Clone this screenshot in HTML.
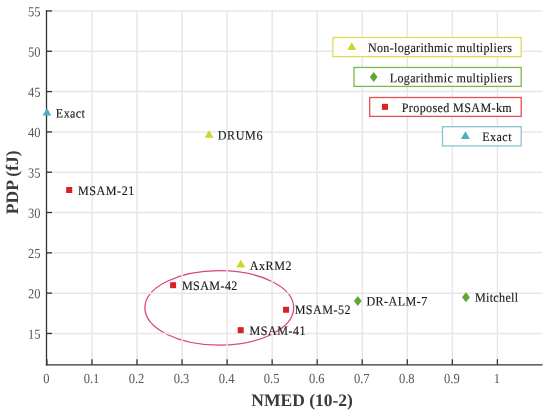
<!DOCTYPE html>
<html><head><meta charset="utf-8"><style>
html,body{margin:0;padding:0;background:#fff;}
body{width:550px;height:415px;overflow:hidden;}
svg{display:block;filter:blur(0.25px);} text{text-rendering:geometricPrecision;}
</style></head><body>
<svg width="550" height="415" viewBox="0 0 550 415">
<rect width="550" height="415" fill="#fff"/>
<ellipse cx="219.3" cy="307.85" rx="74.4" ry="37.25" fill="none" stroke="#d8457e" stroke-width="1.25"/>
<g stroke="#e7e7e7" stroke-width="1.5"><line x1="91.95" y1="10.95" x2="91.95" y2="364.80"/><line x1="137.00" y1="10.95" x2="137.00" y2="364.80"/><line x1="182.05" y1="10.95" x2="182.05" y2="364.80"/><line x1="227.10" y1="10.95" x2="227.10" y2="364.80"/><line x1="272.15" y1="10.95" x2="272.15" y2="364.80"/><line x1="317.20" y1="10.95" x2="317.20" y2="364.80"/><line x1="362.25" y1="10.95" x2="362.25" y2="364.80"/><line x1="407.30" y1="10.95" x2="407.30" y2="364.80"/><line x1="452.35" y1="10.95" x2="452.35" y2="364.80"/><line x1="497.40" y1="10.95" x2="497.40" y2="364.80"/><line x1="46.50" y1="333.47" x2="542.60" y2="333.47"/><line x1="46.50" y1="293.16" x2="542.60" y2="293.16"/><line x1="46.50" y1="252.84" x2="542.60" y2="252.84"/><line x1="46.50" y1="212.53" x2="542.60" y2="212.53"/><line x1="46.50" y1="172.21" x2="542.60" y2="172.21"/><line x1="46.50" y1="131.90" x2="542.60" y2="131.90"/><line x1="46.50" y1="91.58" x2="542.60" y2="91.58"/><line x1="46.50" y1="51.27" x2="542.60" y2="51.27"/><line x1="46.50" y1="10.95" x2="542.60" y2="10.95"/></g>
<g stroke="#333333" stroke-width="1.3"><line x1="46.5" y1="10.3" x2="46.5" y2="365.40000000000003"/><line x1="45.9" y1="364.8" x2="542.6" y2="364.8"/><line x1="46.5" y1="333.47" x2="52" y2="333.47"/><line x1="46.5" y1="293.16" x2="52" y2="293.16"/><line x1="46.5" y1="252.84" x2="52" y2="252.84"/><line x1="46.5" y1="212.53" x2="52" y2="212.53"/><line x1="46.5" y1="172.21" x2="52" y2="172.21"/><line x1="46.5" y1="131.90" x2="52" y2="131.90"/><line x1="46.5" y1="91.58" x2="52" y2="91.58"/><line x1="46.5" y1="51.27" x2="52" y2="51.27"/><line x1="46.5" y1="10.95" x2="52" y2="10.95"/><line x1="46.90" y1="364.8" x2="46.90" y2="359.2"/><line x1="91.95" y1="364.8" x2="91.95" y2="359.2"/><line x1="137.00" y1="364.8" x2="137.00" y2="359.2"/><line x1="182.05" y1="364.8" x2="182.05" y2="359.2"/><line x1="227.10" y1="364.8" x2="227.10" y2="359.2"/><line x1="272.15" y1="364.8" x2="272.15" y2="359.2"/><line x1="317.20" y1="364.8" x2="317.20" y2="359.2"/><line x1="362.25" y1="364.8" x2="362.25" y2="359.2"/><line x1="407.30" y1="364.8" x2="407.30" y2="359.2"/><line x1="452.35" y1="364.8" x2="452.35" y2="359.2"/><line x1="497.40" y1="364.8" x2="497.40" y2="359.2"/></g>
<g font-family="Liberation Serif, serif" font-size="13.3" fill="#555555"><text transform="translate(40.6 338.67) rotate(0.05) scale(0.94 1.04)" text-anchor="end">15</text><text transform="translate(40.6 298.36) rotate(0.05) scale(0.94 1.04)" text-anchor="end">20</text><text transform="translate(40.6 258.04) rotate(0.05) scale(0.94 1.04)" text-anchor="end">25</text><text transform="translate(40.6 217.72) rotate(0.05) scale(0.94 1.04)" text-anchor="end">30</text><text transform="translate(40.6 177.41) rotate(0.05) scale(0.94 1.04)" text-anchor="end">35</text><text transform="translate(40.6 137.09) rotate(0.05) scale(0.94 1.04)" text-anchor="end">40</text><text transform="translate(40.6 96.78) rotate(0.05) scale(0.94 1.04)" text-anchor="end">45</text><text transform="translate(40.6 56.47) rotate(0.05) scale(0.94 1.04)" text-anchor="end">50</text><text transform="translate(40.6 16.15) rotate(0.05) scale(0.94 1.04)" text-anchor="end">55</text><text transform="translate(46.40 383) rotate(0.05) scale(0.94 1.04)" text-anchor="middle">0</text><text transform="translate(91.45 383) rotate(0.05) scale(0.94 1.04)" text-anchor="middle">0.1</text><text transform="translate(136.50 383) rotate(0.05) scale(0.94 1.04)" text-anchor="middle">0.2</text><text transform="translate(181.55 383) rotate(0.05) scale(0.94 1.04)" text-anchor="middle">0.3</text><text transform="translate(226.60 383) rotate(0.05) scale(0.94 1.04)" text-anchor="middle">0.4</text><text transform="translate(271.65 383) rotate(0.05) scale(0.94 1.04)" text-anchor="middle">0.5</text><text transform="translate(316.70 383) rotate(0.05) scale(0.94 1.04)" text-anchor="middle">0.6</text><text transform="translate(361.75 383) rotate(0.05) scale(0.94 1.04)" text-anchor="middle">0.7</text><text transform="translate(406.80 383) rotate(0.05) scale(0.94 1.04)" text-anchor="middle">0.8</text><text transform="translate(451.85 383) rotate(0.05) scale(0.94 1.04)" text-anchor="middle">0.9</text><text transform="translate(496.90 383) rotate(0.05) scale(0.94 1.04)" text-anchor="middle">1</text></g>
<text transform="translate(302.1 406.3) scale(1 1.0)" text-anchor="middle" font-family="Liberation Serif, serif" font-weight="bold" font-size="17.5" fill="#3a3a3a">NMED (10-2)</text>
<text transform="translate(18.1 182.3) rotate(-90) scale(1 1.0)" text-anchor="middle" font-family="Liberation Serif, serif" font-weight="bold" font-size="17.5" fill="#3a3a3a">PDP (fJ)</text>
<rect x="332.9" y="37.5" width="188.30" height="19.10" fill="#fff" stroke="#dedb5a" stroke-width="1.3"/><rect x="354.0" y="67.45" width="167.20" height="18.95" fill="#fff" stroke="#7cba4e" stroke-width="1.3"/><rect x="369.7" y="97.5" width="151.50" height="18.90" fill="#fff" stroke="#e05252" stroke-width="1.3"/><rect x="442.5" y="126.7" width="78.70" height="19.20" fill="#fff" stroke="#88c4d0" stroke-width="1.3"/>
<polygon points="42.65,115.40 51.25,115.40 46.95,107.90" fill="#4fadc0"/><polygon points="204.60,137.85 213.60,137.85 209.10,130.15" fill="#cdd52e"/><polygon points="236.25,267.40 245.25,267.40 240.75,259.70" fill="#cdd52e"/><rect x="66.20" y="187.00" width="6.0" height="6.0" fill="#da2020"/><rect x="170.10" y="282.20" width="6.0" height="6.0" fill="#da2020"/><rect x="283.05" y="306.75" width="6.0" height="6.0" fill="#da2020"/><rect x="237.70" y="327.15" width="6.0" height="6.0" fill="#da2020"/><polygon points="357.80,295.90 361.65,300.90 357.80,305.90 353.95,300.90" fill="#5aa932"/><polygon points="465.95,292.20 469.85,297.20 465.95,302.20 462.05,297.20" fill="#5aa932"/><polygon points="347.25,49.90 356.25,49.90 351.75,42.20" fill="#cdd52e"/><polygon points="373.70,72.10 377.55,77.10 373.70,82.10 369.85,77.10" fill="#5aa932"/><rect x="381.95" y="103.85" width="6.0" height="6.0" fill="#da2020"/><polygon points="460.95,139.00 469.95,139.00 465.45,131.30" fill="#4fadc0"/>
<g font-family="Liberation Serif, serif" font-size="13" fill="#1c1c1c" stroke="#1c1c1c" stroke-width="0.16"><text transform="translate(55.85 117.4) rotate(0.05) scale(0.93 1.0)" textLength="31.33" lengthAdjust="spacing">Exact</text><text transform="translate(217.71 139.6) rotate(0.05) scale(0.93 1.0)" textLength="48.21" lengthAdjust="spacing">DRUM6</text><text transform="translate(249.67 270.0) rotate(0.05) scale(0.93 1.0)" textLength="45.08" lengthAdjust="spacing">AxRM2</text><text transform="translate(77.96 195.0) rotate(0.05) scale(0.93 1.0)" textLength="60.64" lengthAdjust="spacing">MSAM-21</text><text transform="translate(181.99 290.0) rotate(0.05) scale(0.93 1.0)" textLength="59.58" lengthAdjust="spacing">MSAM-42</text><text transform="translate(294.68 314.0) rotate(0.05) scale(0.93 1.0)" textLength="59.97" lengthAdjust="spacing">MSAM-52</text><text transform="translate(249.45 334.9) rotate(0.05) scale(0.93 1.0)" textLength="60.38" lengthAdjust="spacing">MSAM-41</text><text transform="translate(366.40 305.4) rotate(0.05) scale(0.93 1.0)" textLength="65.41" lengthAdjust="spacing">DR-ALM-7</text><text transform="translate(474.93 301.8) rotate(0.05) scale(0.93 1.0)" textLength="46.51" lengthAdjust="spacing">Mitchell</text><text transform="translate(368.01 52.0) rotate(0.05) scale(0.93 1.0)" textLength="154.76" lengthAdjust="spacing">Non-logarithmic multipliers</text><text transform="translate(389.67 82.2) rotate(0.05) scale(0.93 1.0)" textLength="131.77" lengthAdjust="spacing">Logarithmic multipliers</text><text transform="translate(401.75 112.0) rotate(0.05) scale(0.93 1.0)" textLength="118.30" lengthAdjust="spacing">Proposed MSAM-km</text><text transform="translate(482.22 141.0) rotate(0.05) scale(0.93 1.0)" textLength="31.50" lengthAdjust="spacing">Exact</text></g>
</svg>
</body></html>
